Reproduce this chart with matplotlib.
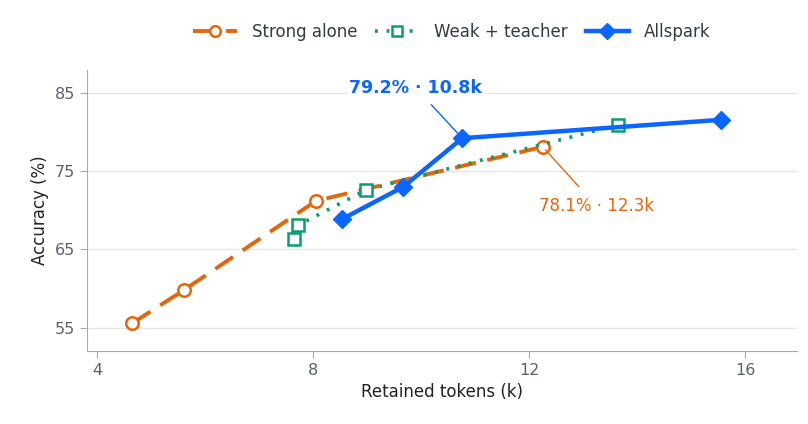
import matplotlib
matplotlib.use("Agg")
import matplotlib.pyplot as plt

strong_x = [4.65, 5.6, 8.05, 12.25]
strong_y = [55.6, 59.8, 71.2, 78.1]
weak_x = [7.65, 7.72, 8.98, 13.65]
weak_y = [66.4, 68.1, 72.6, 80.9]
all_x = [8.54, 9.67, 10.76, 15.56]
all_y = [68.9, 73.0, 79.2, 81.55]
xticks = [4, 8, 12, 16]
yticks = [55, 65, 75, 85]

ORANGE = "#E5660A"
GREEN = "#0B9C6F"
BLUE = "#0A66FF"

plt.rcParams['font.family'] = ['DejaVu Sans']
fig = plt.figure(figsize=(8.08, 4.24), dpi=100)
ax = fig.add_axes([87/808, 1-351/424, 710/808, 281/424])

ax.plot(strong_x, strong_y, color=ORANGE, lw=2.8, ls=(0, (5.5, 3.0)), marker='o', ms=9,
        mfc='white', mec=ORANGE, mew=1.8, label='Strong alone', zorder=3)
ax.plot(weak_x, weak_y, color=GREEN, lw=2.6, ls=(0, (0.8, 2.4)), marker='s', ms=8,
        mfc='white', mec=GREEN, mew=1.8, label='Weak + teacher', zorder=4)
ax.plot(all_x, all_y, color=BLUE, lw=3.2, ls='-', marker='D', ms=9.5,
        mfc=BLUE, mec=BLUE, label='Allspark', zorder=5)

ax.set_xlim(3.81, 16.96)
ax.set_ylim(52.05, 87.9)
ax.set_xticks(xticks)
ax.set_yticks(yticks)
ax.grid(axis='y', color='#e6e6e6', lw=1)
ax.set_axisbelow(True)
for s in ['top', 'right']:
    ax.spines[s].set_visible(False)
for s in ['left', 'bottom']:
    ax.spines[s].set_color('#aaaaaa')
ax.tick_params(colors='#aaaaaa', labelcolor='#5a6270', labelsize=11.5, length=5)
ax.set_xlabel('Retained tokens (k)', fontsize=12, color='#222222')
ax.set_ylabel('Accuracy (%)', fontsize=12, color='#222222')

ax.annotate('79.2% · 10.8k', xy=(all_x[2], all_y[2]), xytext=(9.9, 85.6),
            ha='center', va='center', fontsize=12.5, fontweight='bold', color=BLUE,
            bbox=dict(boxstyle='square,pad=0.15', fc='white', ec='none'),
            arrowprops=dict(arrowstyle='-', color=BLUE, lw=1, shrinkA=5, shrinkB=3))
ax.annotate('78.1% · 12.3k', xy=(strong_x[3], strong_y[3]), xytext=(13.25, 70.5),
            ha='center', va='center', fontsize=12, color=ORANGE,
            arrowprops=dict(arrowstyle='-', color=ORANGE, lw=1, shrinkA=8, shrinkB=3))

leg = fig.legend(loc='center', bbox_to_anchor=(452/808, 1-32/424), ncol=3, frameon=False,
                 fontsize=12, handlelength=2.6, columnspacing=1.1, handletextpad=0.9,
                 markerscale=0.85)
for t in leg.get_texts():
    t.set_color('#333a45')

fig.savefig('out.png', dpi=100)
